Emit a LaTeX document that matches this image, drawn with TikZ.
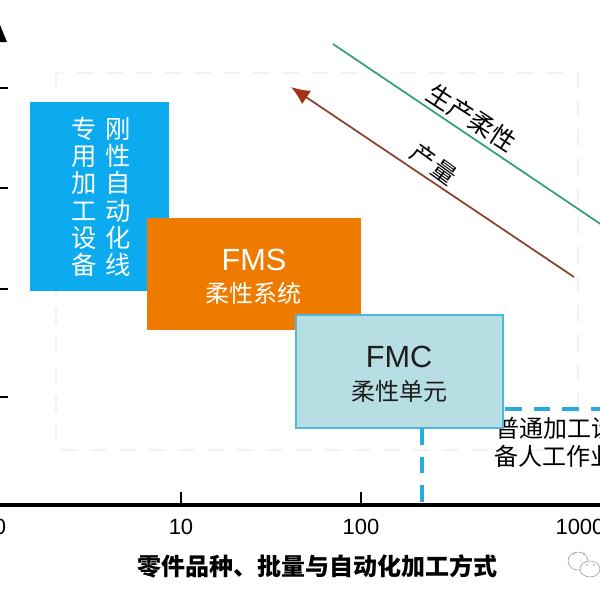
\documentclass[tikz,border=0pt]{standalone}
\usepackage{fontspec}
\usetikzlibrary{arrows.meta}
\setmainfont{Liberation Sans}
\newfontfamily\cjk{Noto Sans CJK SC}
\tikzset{every picture/.style={line width=0.75pt}}
\tikzset{
  boxnode/.style={anchor=north west,inner sep=0pt,outer sep=0pt},
  ticktext/.style={font=\fontsize{16.5}{16.5}\selectfont},
  axisline/.style={line width=2.8pt,black},
  tickline/.style={line width=1.3pt,black},
  cutline/.style={line width=3pt,color={rgb, 255:red, 41; green, 171; blue, 226},dash pattern=on 12.5pt off 9pt},
  logoline/.style={color={rgb, 255:red, 150; green, 150; blue, 150},line width=0.4pt}
}
\begin{document}
\begin{tikzpicture}[x=0.75pt,y=0.75pt,yscale=-1,xscale=1]
	\useasboundingbox (0,0) rectangle (600,600);
	\clip (0,0) rectangle (600,600);

	%Shape: dashed frame
	\draw [color={rgb, 255:red, 243; green, 243; blue, 243 },line width=1.2pt,dash pattern=on 13pt off 9pt] (56,73) rectangle (578,450);

	%Axes
	\coordinate (origin) at (-3,505);
	\coordinate (xend) at (600,505);
	\coordinate (ytop) at (-3,30);
	\draw [axisline] (origin) -- (xend);
	\draw [axisline] (origin) -- (ytop);
	\fill [black] (-13,42) -- (-3,17.5) -- (7,42) -- cycle;
	\foreach \yy in {88,188,289,397} \draw [tickline] (0,\yy) -- (8,\yy);
	\foreach \xx in {181,361,601} \draw [tickline] (\xx,492) -- (\xx,505);

	% Text Node
	\node (manualtop) [anchor=west,inner sep=0pt,font=\cjk\fontsize{18}{18}\selectfont] at (495,428) {普通加工设备};
	\node (manualbot) [anchor=west,inner sep=0pt,font=\cjk\fontsize{18}{18}\selectfont] at (494,456) {备人工作业};

	%Boxes
	\node (rigidbox) [boxnode,fill={rgb, 255:red, 12; green, 170; blue, 238},minimum width=104.25pt,minimum height=141.75pt] at (30,102) {};
	\node (fmsbox) [boxnode,fill={rgb, 255:red, 238; green, 122; blue, 0},minimum width=160.5pt,minimum height=84pt] at (147,218) {};
	\node (fmcbox) [boxnode,draw={rgb, 255:red, 75; green, 184; blue, 220},line width=1.2pt,fill={rgb, 255:red, 183; green, 222; blue, 226},minimum width=155.25pt,minimum height=84.75pt] at (296,315) {};

	%Dashed cut lines
	\coordinate (cutdown) at (422,505);
	\coordinate (cutright) at (600,409);
	\draw [cutline] (fmcbox.south west -| cutdown) -- (cutdown);
	\draw [cutline,shorten <=1.5pt] (fmcbox.east |- cutright) -- (cutright);

	%Slanted lines
	\coordinate (greenstart) at (333,44);
	\coordinate (greenend) at (602,225);
	\coordinate (brownstart) at (574,277);
	\coordinate (brownend) at (291,87);
	\draw [color={rgb, 255:red, 50; green, 160; blue, 115},line width=1.3pt] (greenstart) -- (greenend);
	\draw [color={rgb, 255:red, 135; green, 65; blue, 45},line width=1.3pt,-{Latex[length=14pt,width=12pt,color={rgb, 255:red, 165; green, 50; blue, 20}]}] (brownstart) -- (brownend);

	%Shape: logo
	\draw [logoline] (578,561) ellipse (10 and 9);
	\draw [logoline,fill=white] (590,569) ellipse (10 and 8);
	\foreach \xx/\yy in {574/554,584/554,587/565,594/565} \fill [logoline] (\xx,\yy) circle (0.8);

	% Text Node
	\node (rigidtext) [font=\cjk\fontsize{19}{20.5}\selectfont,text=white,align=center,text width=15pt] at (115,197) {刚\\性\\自\\动\\化\\线};
	\node (specialtext) [font=\cjk\fontsize{19}{20.5}\selectfont,text=white,align=center,text width=15pt] at (81,197) {专\\用\\加\\工\\设\\备};
	\node (fmstext) [text=white,font=\fontsize{23}{23}\selectfont] at (254,260) {FMS};
	\node (fmssub) [text=white,font=\cjk\fontsize{18}{18}\selectfont] at (253,293) {柔性系统};
	\node (fmctext) [text={rgb, 255:red, 30; green, 30; blue, 30},font=\fontsize{23}{23}\selectfont] at (399,357) {FMC};
	\node (fmcsub) [text={rgb, 255:red, 30; green, 30; blue, 30},font=\cjk\fontsize{18}{18}\selectfont] at (399,391) {柔性单元};
	\node (flextext) [rotate=-33,font=\cjk\fontsize{18.8}{18.8}\selectfont] at (472,118) {生产柔性};
	\node (outtext) [rotate=-36,font=\cjk\fontsize{18}{18}\selectfont] at (434,164) {产\hspace{2pt}量};
	\node (xzero) [ticktext] at (0,527) {0};
	\node (xten) [ticktext] at (181,527) {10};
	\node (xhund) [ticktext] at (361,527) {100};
	\node (xthou) [ticktext] at (580,527) {1000};
	\node (xlabel) [font=\cjk\bfseries\fontsize{18}{18}\selectfont] at (317,566) {零件品种、批量与自动化加工方式};

\end{tikzpicture}
\end{document}
